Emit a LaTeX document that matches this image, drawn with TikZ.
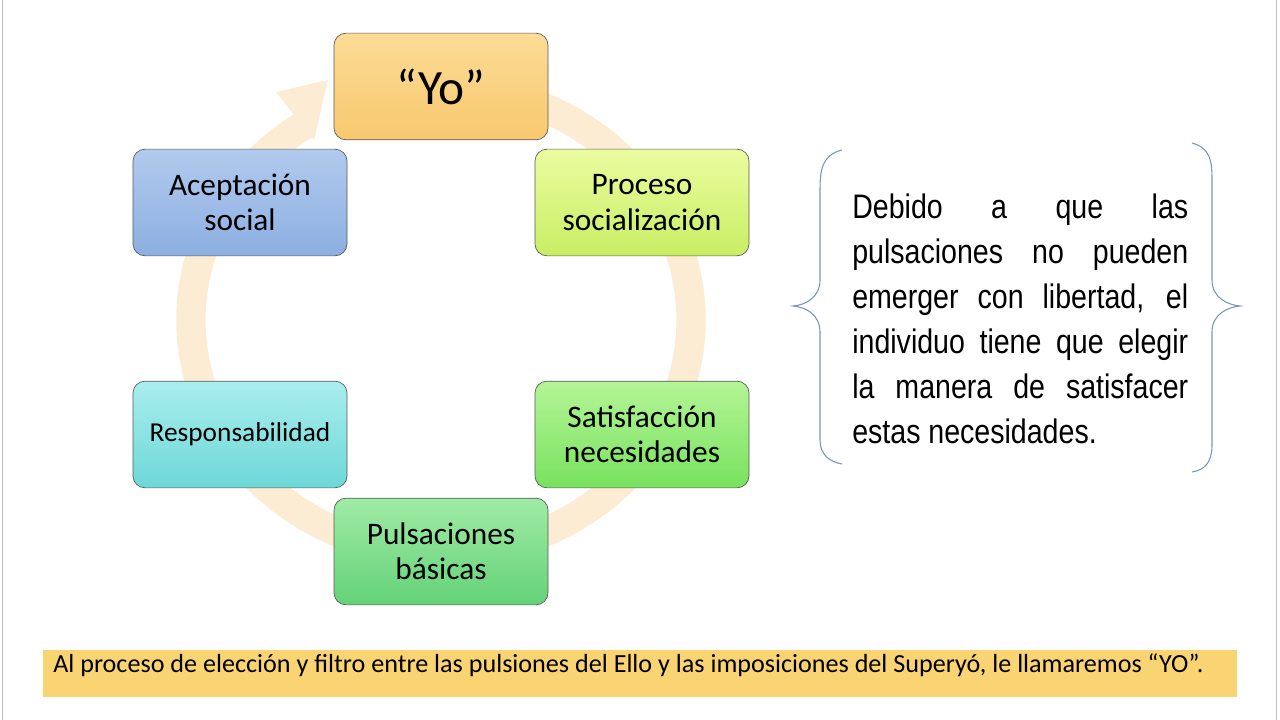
\documentclass[tikz,border=0pt]{standalone}
\usepackage{fontspec}
\setmainfont{Carlito}
\newfontfamily\narrowfont{Liberation Sans}[FakeStretch=0.84]
\begin{document}
\begin{tikzpicture}[x=0.75pt,y=-0.75pt]
\definecolor{ring}{RGB}{253,236,212}
\definecolor{bracec}{RGB}{120,150,190}
\definecolor{yoA}{RGB}{252,220,150}\definecolor{yoB}{RGB}{248,200,110}
\definecolor{psA}{RGB}{235,252,160}\definecolor{psB}{RGB}{200,238,100}
\definecolor{asA}{RGB}{178,202,238}\definecolor{asB}{RGB}{140,175,225}
\definecolor{snA}{RGB}{180,245,150}\definecolor{snB}{RGB}{120,225,95}
\definecolor{reA}{RGB}{170,238,238}\definecolor{reB}{RGB}{110,215,215}
\definecolor{pbA}{RGB}{160,235,165}\definecolor{pbB}{RGB}{100,210,120}
\definecolor{banner}{RGB}{250,212,115}
\tikzset{cbox/.style={draw=gray!70!black,line width=0.5pt,rounded corners=9pt,minimum width=160.5pt,minimum height=80pt,inner sep=0pt,align=center,font=\fontsize{23.5}{26.5}\selectfont}}
\newcommand{\jl}[1]{\makebox[252pt][s]{#1}}
\useasboundingbox (0,0) rectangle (1280,720);
\fill[white] (0,0) rectangle (1280,720);
\draw[gray!50] (2,0) -- (2,720);
\draw[gray!50] (1276,0) -- (1276,720);
% ring
\draw[ring,line width=22pt] (441,320) ++(68:250 and -233) arc[start angle=68,end angle=-238,x radius=250,y radius=-233];
\fill[ring] (276,92) -- (314,140) -- (328,80) -- cycle;
% boxes
\node[cbox,top color=yoA,bottom color=yoB,font=\fontsize{37}{40}\selectfont] (yo) at (441,86.5) {“Yo”};
\node[cbox,top color=psA,bottom color=psB] (ps) at (642,202.5) {Proceso\\socialización};
\node[cbox,top color=asA,bottom color=asB] (as) at (240,202.5) {Aceptación\\social};
\node[cbox,top color=snA,bottom color=snB] (sn) at (642,434.5) {Satisfacción\\necesidades};
\node[cbox,top color=reA,bottom color=reB,font=\fontsize{20.5}{23}\selectfont] (re) at (240,434.5) {Responsabilidad};
\node[cbox,top color=pbA,bottom color=pbB] (pb) at (441,551.5) {Pulsaciones\\básicas};
% braces
\draw[bracec,line width=0.8pt] (842,150) .. controls (822,155) and (820,170) .. (820,190) -- (820,280) .. controls (820,298) and (805,305) .. (793,306) .. controls (805,307) and (820,314) .. (820,332) -- (820,440) .. controls (820,455) and (830,462) .. (842,464);
\draw[bracec,line width=0.8pt] (1192,143) .. controls (1210,148) and (1212,160) .. (1212,180) -- (1212,280) .. controls (1212,298) and (1228,305) .. (1240,306) .. controls (1228,307) and (1212,314) .. (1212,332) -- (1212,445) .. controls (1212,462) and (1205,470) .. (1192,472);
\node[anchor=north west,inner sep=0pt,align=left,font=\narrowfont\fontsize{25.5}{33.75}\selectfont] (tx) at (852,194) {\jl{Debido a que las}\\\jl{pulsaciones no pueden}\\\jl{emerger con libertad, el}\\\jl{individuo tiene que elegir}\\\jl{la manera de satisfacer}\\estas necesidades.};
% banner
\fill[banner] (43,650) rectangle (1237,697);
\node[anchor=west,inner sep=0pt,font=\fontsize{19.6}{22}\selectfont] (bn) at (53,665) {Al proceso de elección y filtro entre las pulsiones del Ello y las imposiciones del Superyó, le llamaremos “YO”.};
\end{tikzpicture}
\end{document}
